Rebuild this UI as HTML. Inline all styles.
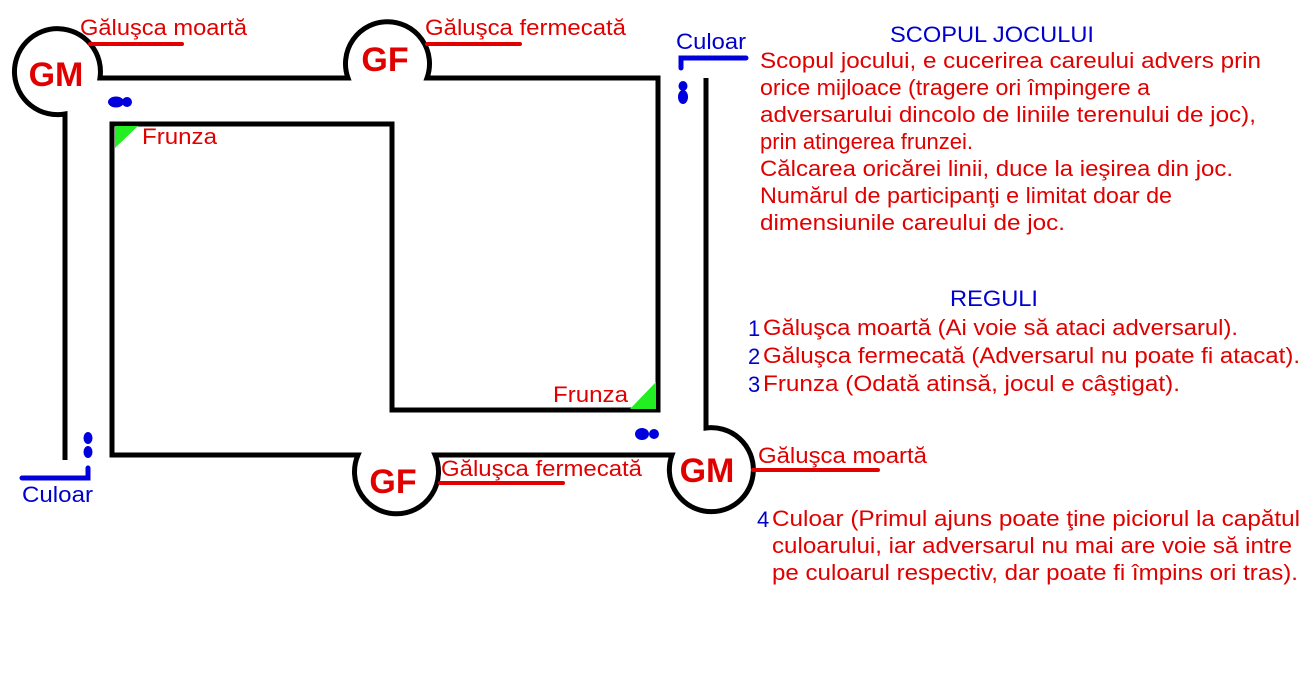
<!DOCTYPE html>
<html><head><meta charset="utf-8"><style>
html,body{margin:0;padding:0;background:#fff;}
svg{display:block;}
text{font-family:"Liberation Sans",Arial,sans-serif;}
.r{fill:#e00000;font-size:22px;}
.b{fill:#0000cc;font-size:22px;}
.big{fill:#e00000;font-size:34px;font-weight:bold;}
</style></head><body>
<svg width="1307" height="689" viewBox="0 0 1307 689" xmlns="http://www.w3.org/2000/svg">
<rect width="1307" height="689" fill="#fff"/>
<path d="M65,460 L65,114 A43,43 0 1 1 100,78 L348,78 A42,42 0 1 1 427,78 L658,78 L658,410 L392,410 L392,124 L112,124 L112,455 L358,455 A42,42 0 1 0 435,455 L672,455 A42,42 0 1 0 706,428 L706,78"
 fill="none" stroke="#000" stroke-width="5" stroke-linejoin="miter"/>
<polygon points="115,126 138,126 115,148" fill="#22ee22"/>
<polygon points="630,409 656,409 656,382" fill="#22ee22"/>
<g stroke="#e00000" stroke-width="4" stroke-linecap="round">
<line x1="90" y1="44" x2="182" y2="44"/>
<line x1="427" y1="44" x2="520" y2="44"/>
<line x1="440" y1="483" x2="563" y2="483"/>
<line x1="753" y1="470" x2="878" y2="470"/>
</g>
<g stroke="#0000dd" stroke-width="5" stroke-linecap="round" fill="none">
<polyline points="746,58 681,58 681,68"/>
<polyline points="22,478 88,478 88,468"/>
</g>
<g fill="#0000dd">
<ellipse cx="116" cy="102" rx="8" ry="5.5"/><ellipse cx="127" cy="102" rx="5" ry="5"/>
<ellipse cx="683" cy="86" rx="4.5" ry="5"/><ellipse cx="683" cy="97" rx="5" ry="7"/>
<ellipse cx="642" cy="434" rx="7" ry="6"/><ellipse cx="654" cy="434" rx="5" ry="5"/>
<ellipse cx="88" cy="438" rx="4.5" ry="6"/><ellipse cx="88" cy="452" rx="4.5" ry="6"/>
</g>
<text class="big" x="56" y="86" text-anchor="middle">GM</text>
<text class="big" x="385" y="71" text-anchor="middle">GF</text>
<text class="big" x="393" y="493" text-anchor="middle">GF</text>
<text class="big" x="707" y="482" text-anchor="middle">GM</text>
<text class="r" x="80" y="35" textLength="167" lengthAdjust="spacingAndGlyphs">Găluşca moartă</text>
<text class="r" x="425" y="35" textLength="201" lengthAdjust="spacingAndGlyphs">Găluşca fermecată</text>
<text class="r" x="441" y="476" textLength="201" lengthAdjust="spacingAndGlyphs">Găluşca fermecată</text>
<text class="r" x="758" y="463" textLength="169" lengthAdjust="spacingAndGlyphs">Găluşca moartă</text>
<text class="r" x="142" y="144" textLength="75" lengthAdjust="spacingAndGlyphs">Frunza</text>
<text class="r" x="553" y="402" textLength="75" lengthAdjust="spacingAndGlyphs">Frunza</text>
<text class="b" x="676" y="49" textLength="70" lengthAdjust="spacingAndGlyphs">Culoar</text>
<text class="b" x="22" y="502" textLength="71" lengthAdjust="spacingAndGlyphs">Culoar</text>
<text class="b" x="890" y="42" textLength="204" lengthAdjust="spacingAndGlyphs">SCOPUL JOCULUI</text>
<text class="r" x="760" y="68" textLength="501" lengthAdjust="spacingAndGlyphs">Scopul jocului, e cucerirea careului advers prin</text>
<text class="r" x="760" y="95" textLength="390" lengthAdjust="spacingAndGlyphs">orice mijloace (tragere ori împingere a</text>
<text class="r" x="760" y="122" textLength="496" lengthAdjust="spacingAndGlyphs">adversarului dincolo de liniile terenului de joc),</text>
<text class="r" x="760" y="149" textLength="213" lengthAdjust="spacingAndGlyphs">prin atingerea frunzei.</text>
<text class="r" x="760" y="176" textLength="473" lengthAdjust="spacingAndGlyphs">Călcarea oricărei linii, duce la ieşirea din joc.</text>
<text class="r" x="760" y="203" textLength="412" lengthAdjust="spacingAndGlyphs">Numărul de participanţi e limitat doar de</text>
<text class="r" x="760" y="230" textLength="305" lengthAdjust="spacingAndGlyphs">dimensiunile careului de joc.</text>
<text class="b" x="950" y="306" textLength="88" lengthAdjust="spacingAndGlyphs">REGULI</text>
<text class="b" x="748" y="336">1</text>
<text class="r" x="763" y="335" textLength="475" lengthAdjust="spacingAndGlyphs">Găluşca moartă (Ai voie să ataci adversarul).</text>
<text class="b" x="748" y="364">2</text>
<text class="r" x="763" y="363" textLength="537" lengthAdjust="spacingAndGlyphs">Găluşca fermecată (Adversarul nu poate fi atacat).</text>
<text class="b" x="748" y="392">3</text>
<text class="r" x="763" y="391" textLength="417" lengthAdjust="spacingAndGlyphs">Frunza (Odată atinsă, jocul e câştigat).</text>
<text class="b" x="757" y="527">4</text>
<text class="r" x="772" y="526" textLength="528" lengthAdjust="spacingAndGlyphs">Culoar (Primul ajuns poate ţine piciorul la capătul</text>
<text class="r" x="772" y="553" textLength="520" lengthAdjust="spacingAndGlyphs">culoarului, iar adversarul nu mai are voie să intre</text>
<text class="r" x="772" y="580" textLength="526" lengthAdjust="spacingAndGlyphs">pe culoarul respectiv, dar poate fi împins ori tras).</text>
</svg>
</body></html>
